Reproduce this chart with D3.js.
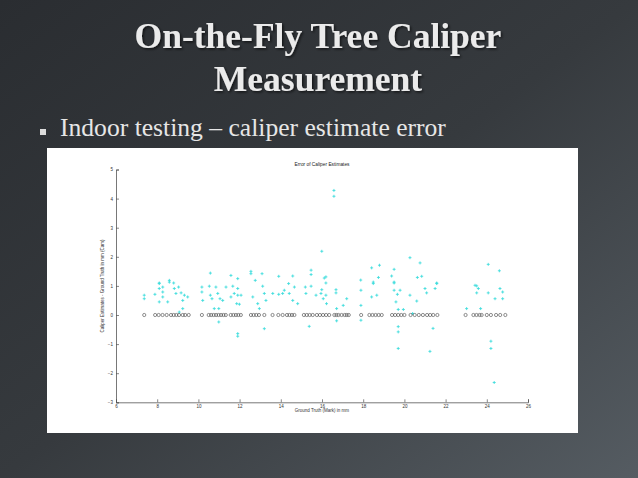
<!DOCTYPE html>
<html><head><meta charset="utf-8">
<script src="https://cdn.jsdelivr.net/npm/d3@7"></script>
<style>html,body{margin:0;padding:0;background:#33373b;overflow:hidden}</style>
</head><body>
<svg id="c" width="638" height="478"></svg>
<script>
const slideTitle = ["On-the-Fly Tree Caliper", "Measurement"];
const bulletText = "Indoor testing \u2013 caliper estimate error";
const chartTitle = "Error of Caliper Estimates";
const xLabel = "Ground Truth (Mark) in mm";
const yLabel = "Caliper Estimates - Ground Truth in mm (Cam)";
const xTicks = [6, 8, 10, 12, 14, 16, 18, 20, 22, 24, 26];
const yTicks = [-3, -2, -1, 0, 1, 2, 3, 4, 5];

// ground-truth positions (black circles at zero error)
const groundTruth = [7.37, 7.9, 8.07, 8.26, 8.46, 8.67, 8.8, 8.93, 9.06, 9.24, 9.36, 9.53,
  10.17, 10.5, 10.62, 10.74, 10.86, 10.98, 11.1, 11.22, 11.33, 11.57, 11.7, 11.82, 11.94, 12.06,
  12.55, 12.68, 12.81, 12.94, 13.2, 13.6, 13.88, 14.09, 14.3, 14.42, 14.54, 14.66,
  15.12, 15.26, 15.4, 15.55, 15.75, 15.9, 16.05, 16.2, 16.35, 16.6, 16.7, 16.8, 16.95, 17.1, 17.2, 17.3,
  17.9, 18.3, 18.45, 18.6, 18.75, 18.9, 19.4, 19.55, 19.7, 19.85, 20.0, 20.3, 20.5, 20.7, 20.9,
  21.1, 21.25, 21.4, 21.6, 22.97, 23.35, 23.5, 23.65, 23.75, 24.0, 24.2, 24.45, 24.65, 24.9];

// caliper estimate errors (cyan markers)
const estX = [7.37,7.37, 7.89, 8.10,8.10,8.10,8.10, 8.27,8.27,8.27, 8.51, 8.59,8.59, 8.80, 8.83, 8.91, 9.04, 9.07, 9.16, 9.24,9.24, 9.32, 9.48,
  10.17,10.17, 10.21, 10.53, 10.58,10.58, 10.66, 10.77, 10.85, 10.94, 10.99,10.99, 11.05, 11.18, 11.34,
  11.58,11.58, 11.67, 11.74, 11.86, 11.91,11.91,11.91,11.91,11.91, 11.99, 12.07,
  12.55,12.55, 12.64, 12.76, 12.88, 12.96, 13.09, 13.12, 13.2,13.2, 13.28, 13.61, 13.9,13.9,
  14.09, 14.17, 14.38, 14.41, 14.58,14.58, 14.66, 14.82, 15.19, 15.22, 15.38, 15.47,15.47,15.47,
  15.71, 15.95, 15.99,15.99, 16.06, 16.11, 16.19,16.19,16.19, 16.22, 16.58,16.58, 16.68,16.68, 16.71,16.71,
  17.03, 17.2, 17.88, 17.89,17.89,17.89, 18.41,18.41, 18.49,18.49, 18.66, 18.74, 18.79,
  19.38, 19.5,19.5,19.5,19.5, 19.59, 19.66, 19.7,19.7,19.7,19.7, 19.79, 19.95,
  20.27,20.27, 20.4, 20.6, 20.63, 20.76, 20.84, 21.0, 21.08, 21.24, 21.39, 21.49, 21.57,21.57,
  23.02, 23.43, 23.51,23.51, 23.59, 23.7, 24.07,24.07, 24.2,24.2, 24.36, 24.4, 24.61, 24.64, 24.77,24.77];
const estErr = [0.68,0.56, 0.71, 0.91,1.08,0.45,1.1, 0.79,0.62,0.96, 0.45, 1.13,1.19, 1.1, 0.91, 0.74, 0.96, 0.1, 0.76, 0.5,0.22, 0.68, 0.62,
  0.96,0.79, 0.5, 0.99, 0.68,1.44, 0.56, 0.22, 0.96, 0.74, 0.22,-0.24, 0.56, 0.5, 0.96,
  0.62,1.36, 0.99, 0.74, 0.39, 0.91,0.68,-0.64,-0.73,1.25, 0.37, 0.68,
  1.5,1.42, 0.62, 1.19, 0.39, 0.22, 1.42, 0.99, 0.74,-0.47, 0.5, 0.74, 0.71,1.33,
  0.74, 0.85, 1.08, 0.74, 0.5,1.34, 0.96, 0.39, 0.96, 0.74, -0.39, 0.99,1.54,1.39,
  0.68, 0.74, 0.87,2.19, 0.56, 1.27, 0.68,1.31,1.1, 0.39, 4.28,4.08, 0.87,0.76, 0.22,-0.2,
  0.33, 0.56, 1.2, 0.85,0.33,-0.18, 1.62,0.62, 1.13,1.08, 0.68, 1.29, 1.71,
  1.34, 1.57,1.13,1.1,0.85, 0.45, 0.71, 0.19,-0.4,-0.58,-1.15, 0.85, 0.19,
  1.97,0.68, 0.05, 0.48, 1.29, 1.79, 1.33, 0.91, 0.76, -1.25, -0.46, 0.91, 1.08,1.1,
  0.22, 1.02, 0.76,1.0, 0.91, 0.22, 0.76,1.74, -0.9,-1.15, -2.32, 0.56, 1.52, 0.91, 0.79,0.56];

const W = 638, H = 478;
const svg = d3.select("#c");
const defs = svg.append("defs");
const g = defs.append("linearGradient").attr("id","bg").attr("x1","0").attr("y1","0").attr("x2","1").attr("y2","1");
g.append("stop").attr("offset","0").attr("stop-color","#2a2d31");
g.append("stop").attr("offset","0.5").attr("stop-color","#363a3e");
g.append("stop").attr("offset","1").attr("stop-color","#555c62");
svg.append("rect").attr("width",W).attr("height",H).attr("fill","url(#bg)");
const f = defs.append("filter").attr("id","sh").attr("x","-10%").attr("y","-30%").attr("width","120%").attr("height","160%");
f.append("feDropShadow").attr("dx",1.5).attr("dy",1.5).attr("stdDeviation",1).attr("flood-color","#000").attr("flood-opacity",0.6);

// slide title
const tf = "'Liberation Serif','Times New Roman',serif";
svg.append("g").attr("filter","url(#sh)").selectAll("text").data(slideTitle).join("text")
  .attr("x",318).attr("y",(d,i)=>48+i*43).attr("text-anchor","middle")
  .attr("font-family",tf).attr("font-weight","bold").attr("font-size",35.5)
  .attr("fill","#ebebeb").text(d=>d);
svg.append("rect").attr("x",40).attr("y",129).attr("width",6).attr("height",6).attr("fill","#dcdcdc");
svg.append("text").attr("x",60).attr("y",136).attr("font-family",tf).attr("font-size",25.6)
  .attr("fill","#e6e6e6").text(bulletText);

// chart panel
svg.append("rect").attr("x",47).attr("y",148).attr("width",531).attr("height",285).attr("fill","#ffffff");

const x = d3.scaleLinear().domain([6,26]).range([116,528]);
const y = d3.scaleLinear().domain([-3,5]).range([402.3,169.5]);
const af = "'Liberation Sans',Arial,sans-serif";

const xa = svg.append("g").attr("transform",`translate(0,${y(-3)})`)
  .call(d3.axisBottom(x).tickValues(xTicks).tickSize(-3).tickPadding(3));
const ya = svg.append("g").attr("transform",`translate(${x(6)},0)`)
  .call(d3.axisLeft(y).tickValues(yTicks).tickSize(-3).tickPadding(3));
[xa,ya].forEach(a=>{
  a.select(".domain").attr("stroke","#555").attr("stroke-width",0.8);
  a.selectAll(".tick line").attr("stroke","#555").attr("stroke-width",0.7);
  a.selectAll(".tick text").attr("font-family",af).attr("font-size",4.5).attr("fill","#333");
});

svg.append("text").attr("x",322).attr("y",166).attr("text-anchor","middle")
  .attr("font-family",af).attr("font-size",4.8).attr("fill","#222").text(chartTitle);
svg.append("text").attr("x",322).attr("y",412).attr("text-anchor","middle")
  .attr("font-family",af).attr("font-size",4.5).attr("fill","#333").text(xLabel);
svg.append("text").attr("transform",`translate(104,${y(1)}) rotate(-90)`).attr("text-anchor","middle")
  .attr("font-family",af).attr("font-size",4.5).attr("fill","#333").text(yLabel);

// cyan estimate markers (+)
const est = estX.map((v,i)=>({x:v, e:estErr[i]}));
const s = 1.5;
svg.append("g").selectAll("path").data(est).join("path")
  .attr("d", d => `M${x(d.x)-s},${y(d.e)}h${2*s}M${x(d.x)},${y(d.e)-s}v${2*s}`)
  .attr("stroke","#3adcdc").attr("stroke-width",0.85).attr("fill","none");

// ground truth circles at zero
svg.append("g").selectAll("circle").data(groundTruth).join("circle")
  .attr("cx", d => x(d)).attr("cy", y(0)).attr("r",1.6)
  .attr("fill","none").attr("stroke","#444").attr("stroke-width",0.6);
</script>
</body></html>
